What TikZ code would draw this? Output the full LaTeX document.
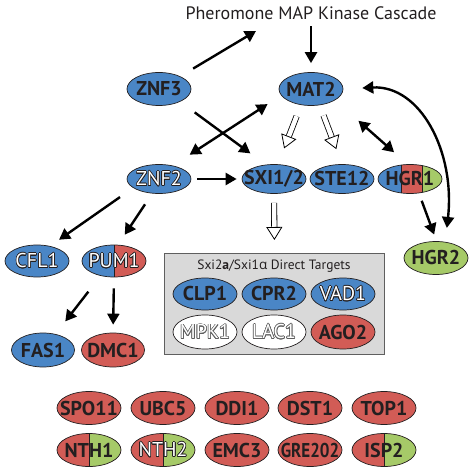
\documentclass[tikz,border=0pt]{standalone}
\usepackage{fontspec}
\setmainfont{PT Sans}
\newfontfamily\greekfont{Open Sans}
\usepackage{contour}
\usetikzlibrary{shapes.geometric,arrows.meta}

\definecolor{gblue}{RGB}{74,134,198}
\definecolor{gred}{RGB}{210,92,86}
\definecolor{ggreen}{RGB}{166,202,104}
\definecolor{ink}{RGB}{35,31,32}
\definecolor{boxgray}{RGB}{217,217,217}
\definecolor{boxline}{RGB}{95,95,95}

\contourlength{0.7pt}
\newcommand{\wlab}[1]{{\mdseries\textcolor{white}{\contour{ink}{#1}}}}
\newcommand{\glab}[1]{{\mdseries\textcolor{white}{\contour{boxline}{#1}}}}

\tikzset{
  gene/.style={ellipse, draw=ink, line width=0.7pt, minimum width=64pt,
    minimum height=33pt, inner xsep=-9pt, inner ysep=-5pt, text=ink,
    font=\fontsize{20}{22}\selectfont\bfseries},
  flat/.style={minimum height=29pt},
  bluegene/.style={gene, fill=gblue},
  redgene/.style={gene, fill=gred},
  greengene/.style={gene, fill=ggreen},
  whitegene/.style={gene, fill=white},
  halves/.style 2 args={gene, fill=#1, path picture={
    \fill[#2] (path picture bounding box.north) rectangle (path picture bounding box.south east);
    \draw[ink, line width=0.5pt] (path picture bounding box.north) -- (path picture bounding box.south);}},
  arr/.style={line width=2.4pt, -{Triangle[length=11pt,width=12pt]}},
  dblarr/.style={line width=2.4pt, {Triangle[length=11pt,width=12pt]}-{Triangle[length=11pt,width=12pt]}},
  hollow/.style={line width=0.8pt, double=white, double distance=4.5pt,
    -{Triangle[open,length=13pt,width=16pt,fill=white,line width=0.8pt]}},
}

\begin{document}
\begin{tikzpicture}[x=1pt,y=-1pt]
  \useasboundingbox[fill=white] (0,0) rectangle (474,473);

  % upper network
  \node[font=\fontsize{18}{20}\selectfont, text=ink] (title) at (311,13) {Pheromone MAP Kinase Cascade};
  \node[bluegene] (znf3) at (159,89) {ZNF3};
  \node[bluegene] (mat2) at (311,89) {MAT2};

  \node[bluegene, flat] (znf2) at (159,179) {\wlab{ZNF2}};
  \node[bluegene, flat] (sxi) at (274,179) {SXI1/2};
  \node[bluegene, flat] (ste12) at (342,179) {STE12};
  \node[bluegene, flat, path picture={
    \fill[gred] ([xshift=-9pt]path picture bounding box.north) rectangle ([xshift=12pt]path picture bounding box.south);
    \fill[ggreen] ([xshift=12pt]path picture bounding box.north) rectangle (path picture bounding box.south east);
    \draw[ink, line width=0.5pt] ([xshift=-9pt]path picture bounding box.north) -- ([xshift=-9pt]path picture bounding box.south)
      ([xshift=12pt]path picture bounding box.north) -- ([xshift=12pt]path picture bounding box.south);}] (hgr1) at (410,179) {HGR1};

  \node[bluegene, minimum height=32pt] (cfl1) at (37,261) {\wlab{CFL1}};
  \node[halves={gblue}{gred}, minimum height=32pt] (pum1) at (114,261) {\wlab{PUM1}};
  \node[greengene] (hgr2) at (436,258) {HGR2};

  \node[bluegene, minimum width=63pt, minimum height=34pt] (fas1) at (43,350) {FAS1};
  \node[redgene, minimum width=63pt, minimum height=34pt] (dmc1) at (113,350) {DMC1};

  % direct targets
  \node[rectangle, draw=boxline, line width=1.1pt, fill=boxgray, minimum width=220pt,
    minimum height=101pt, anchor=north west] (targets) at (164,253) {};
  \node[font=\fontsize{13.5}{15}\selectfont, text=ink] (targettitle) at (274,266)
    {Sxi2\textbf{a}/Sxi1{\greekfont α} Direct Targets};
  \node[bluegene, minimum height=32pt] (clp1) at (205,294) {CLP1};
  \node[bluegene, minimum height=32pt] (cpr2) at (274,294) {CPR2};
  \node[bluegene, minimum height=32pt] (vad1) at (343,294) {\wlab{VAD1}};
  \node[whitegene, minimum height=34pt] (mpk1) at (205,332) {\glab{MPK1}};
  \node[whitegene, minimum height=34pt] (lac1) at (274,332) {\glab{LAC1}};
  \node[redgene, minimum height=34pt] (ago2) at (343,332) {AGO2};

  % lower genes
  \node[redgene] (spo11) at (89,408) {SPO11};
  \node[redgene] (ubc5) at (163,408) {UBC5};
  \node[redgene] (ddi1) at (237,408) {DDI1};
  \node[redgene] (dst1) at (310,408) {DST1};
  \node[redgene] (top1) at (384,408) {TOP1};
  \node[halves={gred}{ggreen}] (nth1) at (89,450) {NTH1};
  \node[halves={gred}{ggreen}] (nth2) at (163,450) {\wlab{NTH2}};
  \node[redgene] (emc3) at (237,450) {EMC3};
  \node[redgene] (gre202) at (310,450) {\scalebox{0.85}[1]{GRE202}};
  \node[halves={gred}{ggreen}] (isp2) at (384,450) {ISP2};

  % connectors
  \coordinate (casc) at (256,31);
  \draw[arr, shorten <=15pt] (znf3) -- (casc);
  \draw[arr, shorten <=3pt, shorten >=9pt] (title.south) -- (title.south |- mat2.north);
  \draw[arr, shorten <=18pt, shorten >=19pt] (znf3.-31) -- (sxi.120);
  \draw[dblarr, shorten <=16pt, shorten >=20pt] (mat2.192) -- (znf2.44);
  \draw[hollow, shorten <=12pt, shorten >=17pt] (mat2.238) -- (sxi.75);
  \draw[hollow, shorten <=11pt, shorten >=16pt] (mat2.-62) -- (ste12.90);
  \draw[dblarr, shorten <=31pt, shorten >=18pt] (mat2.-25) -- (hgr1.99);
  \draw[dblarr, shorten <=19pt, shorten >=14pt] (mat2.east) .. controls +(77,-4) and +(10,-90) .. (hgr2.60);
  \draw[arr, shorten <=6pt, shorten >=5pt] (znf2) -- (sxi);
  \draw[arr, shorten <=16pt, shorten >=11pt] (znf2.199) -- (cfl1.49);
  \draw[arr, shorten <=13pt, shorten >=12pt] (znf2.245) -- (pum1.76);
  \draw[arr, shorten <=8pt, shorten >=7pt] (hgr1.-58) -- (hgr2.88);
  \draw[hollow, shorten <=9pt, shorten >=13pt] (sxi.south) -- (targets.north);
  \draw[arr, shorten <=20pt, shorten >=16pt] (pum1.228) -- (fas1.52);
  \draw[arr, shorten <=11pt, shorten >=8pt] (pum1.south) -- (dmc1.north);
\end{tikzpicture}
\end{document}
